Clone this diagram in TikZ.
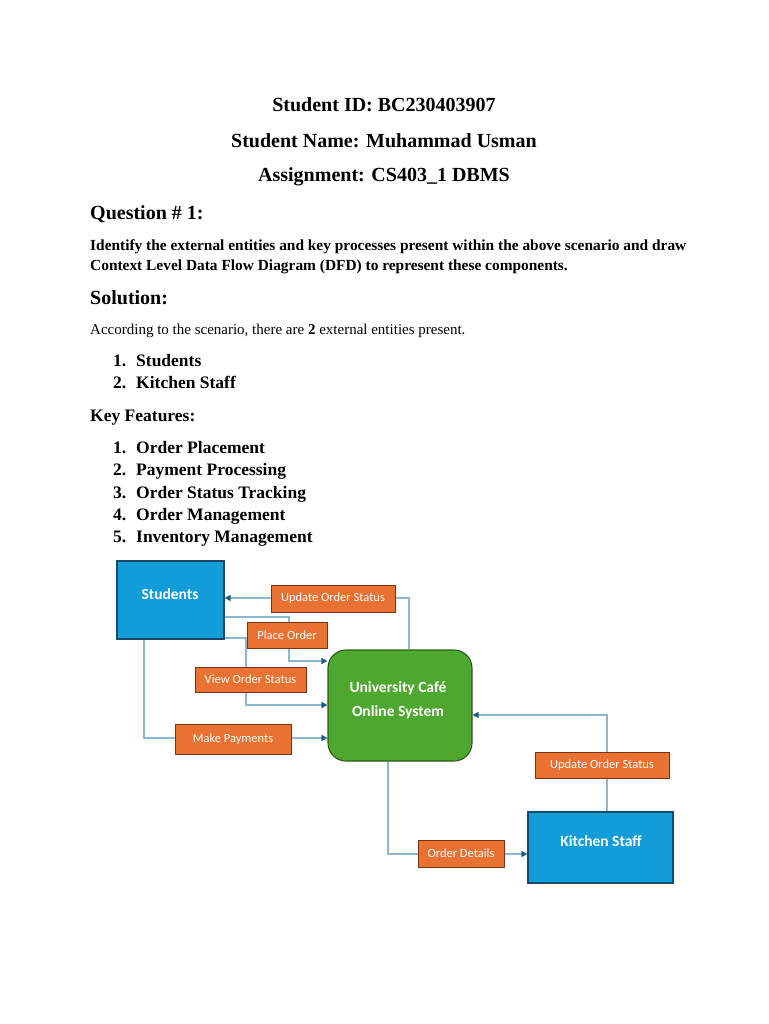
\documentclass[tikz,border=0pt]{standalone}
\usepackage{fontspec}
\setmainfont{Liberation Serif}
\newfontfamily\calib{Carlito}
\usetikzlibrary{arrows.meta,calc}
\definecolor{entblue}{HTML}{139DD8}
\definecolor{entborder}{HTML}{1B4A68}
\definecolor{sysgreen}{HTML}{4EA72E}
\definecolor{sysborder}{HTML}{2D5A1C}
\definecolor{lblorange}{HTML}{E97132}
\definecolor{lblborder}{HTML}{7A3414}
\definecolor{flowline}{HTML}{8DB6CF}
\definecolor{arrowblue}{HTML}{1F5C86}
\pgfdeclarelayer{bg}
\pgfsetlayers{bg,main}
\tikzset{
  title/.style={font=\fontsize{20}{24}\selectfont\bfseries, anchor=center},
  head/.style={font=\fontsize{20}{24}\selectfont\bfseries, anchor=base west, inner sep=0},
  bodyb/.style={font=\fontsize{15.4}{18}\selectfont\bfseries, anchor=base west, inner sep=0},
  bodyr/.style={font=\fontsize{15}{18}\selectfont, anchor=base west, inner sep=0},
  listb/.style={font=\fontsize{17.5}{20}\selectfont\bfseries, anchor=base west, inner sep=0},
  entity/.style={draw=entborder, line width=1.3pt, fill=entblue, inner sep=0},
  proc/.style={draw=sysborder, line width=1.1pt, fill=sysgreen, rounded corners=18pt, inner sep=0},
  boxtext/.style={text=white, font=\calib\fontsize{15.5}{24}\selectfont\bfseries, align=center, inner sep=0},
  lbl/.style={draw=lblborder, line width=0.9pt, fill=lblorange, text=white, font=\calib\fontsize{12.5}{14}\selectfont, inner sep=0, minimum height=26pt},
  flow/.style={draw=flowline, line width=1.3pt, -{Triangle[length=6pt,width=6pt,color=arrowblue]}}
}
\begin{document}
\begin{tikzpicture}[x=1pt,y=-1pt]
\begin{pgfonlayer}{bg}
\fill[white] (0,0) rectangle (768,1024);
\end{pgfonlayer}
\useasboundingbox (0,0) rectangle (768,1024);

% header text
\node[title] (t1) at (384,105) {Student ID: BC230403907};
\node[title] (t2) at (384,141) {Student Name: Muhammad Usman};
\node[title] (t3) at (384,177) {Assignment: CS403\_1 DBMS};
\node[head] (q1) at (90,220) {Question \# 1:};
\node[bodyb] (q2) at (90,250) {Identify the external entities and key processes present within the above scenario and draw};
\node[bodyb] (q3) at (90,270) {Context Level Data Flow Diagram (DFD) to represent these components.};
\node[head] (sol) at (90,304) {Solution:};
\node[bodyr] (acc) at (90,334) {According to the scenario, there are \textbf{2} external entities present.};
\node[listb] (e1n) at (113,366) {1.}; \node[listb] (e1) at (136,366) {Students};
\node[listb] (e2n) at (113,388) {2.}; \node[listb] (e2) at (136,388) {Kitchen Staff};
\node[listb] (kf) at (90,421) {Key Features:};
\node[listb] (f1n) at (113,453) {1.}; \node[listb] (f1) at (136,453) {Order Placement};
\node[listb] (f2n) at (113,475) {2.}; \node[listb] (f2) at (136,475) {Payment Processing};
\node[listb] (f3n) at (113,498) {3.}; \node[listb] (f3) at (136,498) {Order Status Tracking};
\node[listb] (f4n) at (113,520) {4.}; \node[listb] (f4) at (136,520) {Order Management};
\node[listb] (f5n) at (113,542) {5.}; \node[listb] (f5) at (136,542) {Inventory Management};

% diagram nodes
\node[entity, minimum width=107pt, minimum height=78pt] (s) at (170.5,600) {};
\node[boxtext] (stxt) at (170,594) {Students};
\node[proc, minimum width=144pt, minimum height=111pt] (sys) at (400,705.5) {};
\node[boxtext] (systxt) at (398,700) {University Café\\Online System};
\node[entity, minimum width=145pt, minimum height=71pt] (ks) at (600.5,847.5) {};
\node[boxtext] (kstxt) at (601,841) {Kitchen Staff};

\node[lbl, minimum width=124pt, minimum height=27pt] (l1) at (333,598.5) {Update Order Status};
\node[lbl, minimum width=80pt] (l2) at (287,635) {Place Order};
\node[lbl, minimum width=111pt, minimum height=25pt] (l3) at (250.5,679.5) {View Order Status};
\node[lbl, minimum width=116pt, minimum height=30pt] (l4) at (233,739) {Make Payments};
\node[lbl, minimum width=134pt] (l5) at (602,765) {Update Order Status};
\node[lbl, minimum width=86pt, minimum height=27pt] (l6) at (461,853.5) {Order Details};

% connectors
\begin{pgfonlayer}{bg}
\draw[flow] (sys.north -| 409,0) |- (s.east |- 0,598);
\draw[flow] (s.east |- 0,617) -| (289,661) -- (sys.west |- 0,661);
\draw[flow] (s.east |- 0,638) -| (246,705) -- (sys.west |- 0,705);
\draw[flow] (s.south -| 144,0) |- (sys.west |- 0,738);
\draw[flow] (sys.south -| 388,0) |- (ks.west |- 0,854);
\draw[flow] (ks.north -| 607,0) |- (sys.east |- 0,715);
\end{pgfonlayer}
\end{tikzpicture}
\end{document}
